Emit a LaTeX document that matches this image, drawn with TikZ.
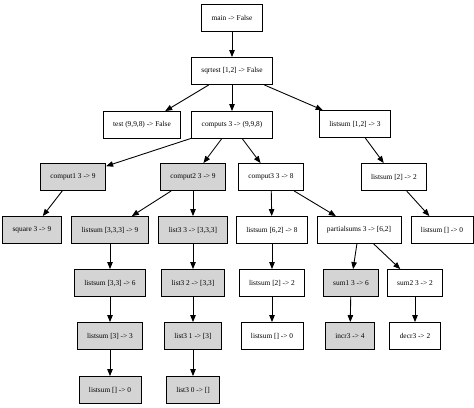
\documentclass[tikz,border=0pt]{standalone}
\usepackage{fontspec}
\setmainfont{Liberation Serif}
\usetikzlibrary{arrows.meta}

\begin{document}
\begin{tikzpicture}[x=0.02cm, y=-0.02cm,
	call/.style={draw, line width=0.5pt, minimum height=0.54cm, inner xsep=0.2cm,
		font=\fontsize{4.2}{5}\selectfont},
	shaded/.style={call, fill=black!17},
	edge/.style={line width=0.5pt, -{Triangle[length=1.4mm, width=1.1mm]}}]
\useasboundingbox (0,0) rectangle (474,407);
%top
\node[call] (main) at (232,18) {main -> False};
\node[call] (sqrtest) at (232,71) {sqrtest [1,2] -> False};
\node[call] (test) at (142,125) {test (9,9,8) -> False};
\node[call] (computs) at (232,125) {computs 3 -> (9,9,8)};
\node[call] (lsA) at (355,124) {listsum [1,2] -> 3};
%third row
\node[shaded] (compA) at (73,177) {comput1 3 -> 9};
\node[shaded] (compB) at (193,177) {comput2 3 -> 9};
\node[call] (compC) at (271,177) {comput3 3 -> 8};
\node[call] (lsB) at (394,177) {listsum [2] -> 2};
%fourth row
\node[shaded] (square) at (32,230) {square 3 -> 9};
\node[shaded] (lsC) at (110,230) {listsum [3,3,3] -> 9};
\node[shaded] (lthree) at (193,230) {list3 3 -> [3,3,3]};
\node[call] (lsD) at (272,230) {listsum [6,2] -> 8};
\node[call] (psums) at (359,230) {partialsums 3 -> [6,2]};
\node[call] (lsE) at (442,230) {listsum [] -> 0};
%chains
\node[shaded] (lsF) at (110,283) {listsum [3,3] -> 6};
\node[shaded] (ltwo) at (193,283) {list3 2 -> [3,3]};
\node[call] (lsG) at (272,283) {listsum [2] -> 2};
\node[shaded] (sumA) at (351,283) {sum1 3 -> 6};
\node[call] (sumB) at (415,283) {sum2 3 -> 2};
\node[shaded] (lsH) at (110,336) {listsum [3] -> 3};
\node[shaded] (lone) at (193,336) {list3 1 -> [3]};
\node[call] (lsI) at (272,336) {listsum [] -> 0};
\node[shaded] (incr) at (350,336) {incr3 -> 4};
\node[call] (decr) at (415,336) {decr3 -> 2};
\node[shaded] (lsJ) at (110,390) {listsum [] -> 0};
\node[shaded] (lzero) at (193,390) {list3 0 -> []};
%edges
\foreach \a/\b in {main/sqrtest, sqrtest/test, sqrtest/computs, sqrtest/lsA,
	computs/compA, computs/compB, computs/compC, lsA/lsB, lsB/lsE,
	compA/square, compB/lsC, compB/lthree, compC/lsD, compC/psums,
	lsC/lsF, lsF/lsH, lsH/lsJ, lthree/ltwo, ltwo/lone, lone/lzero,
	lsD/lsG, lsG/lsI, psums/sumA, psums/sumB, sumA/incr, sumB/decr}{
	\draw[edge] (\a) -- (\b);
	}
\end{tikzpicture}
\end{document}
